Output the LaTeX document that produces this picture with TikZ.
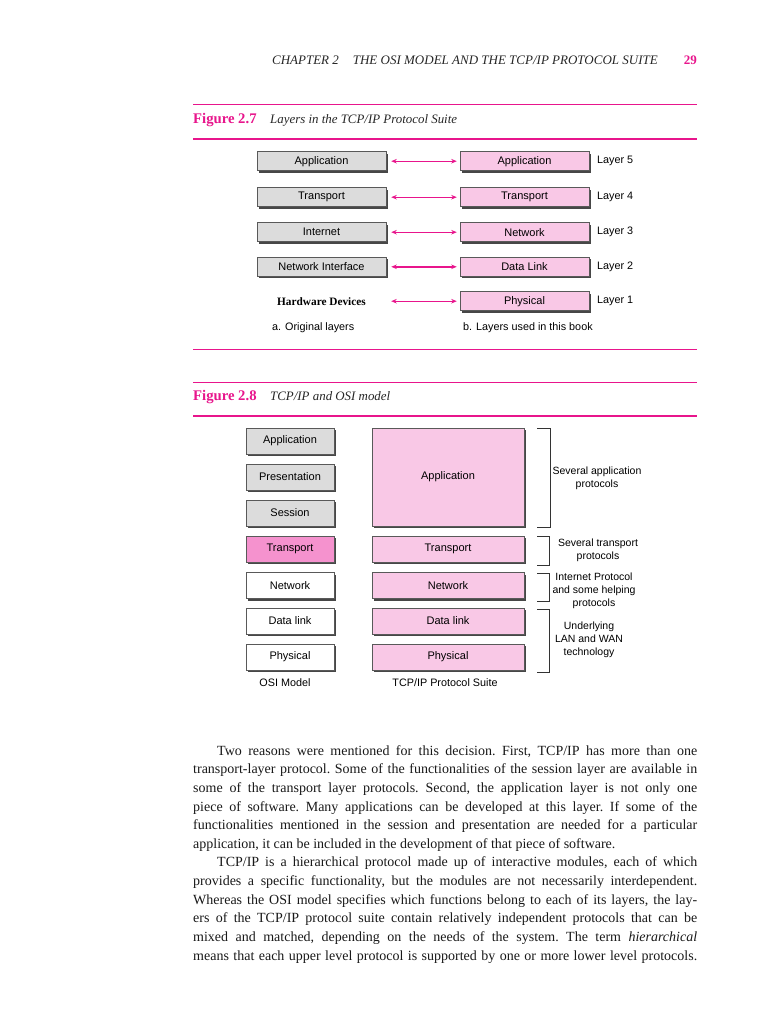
\documentclass[tikz,border=0pt]{standalone}
\usepackage{fontspec}
\setmainfont{Liberation Serif}
\setsansfont{Liberation Sans}
\usetikzlibrary{shadows,arrows.meta}
\definecolor{mag}{HTML}{E8158C}
\definecolor{boxgray}{HTML}{DCDCDC}
\definecolor{boxpink}{HTML}{F9C8E6}
\definecolor{boxmag}{HTML}{F592CE}
\tikzset{
  lay/.style={draw=black!65, line width=0.5pt, inner sep=0pt,
    font=\sffamily\fontsize{11}{13}\selectfont,
    general shadow={fill=black!72, shadow xshift=2pt, shadow yshift=-2pt}},
  sevenL/.style={lay, fill=boxgray, minimum width=129pt, minimum height=19pt},
  sevenR/.style={lay, fill=boxpink, minimum width=129pt, minimum height=19pt},
  osibox/.style={lay, minimum width=88pt, minimum height=26pt},
  tcpbox/.style={lay, fill=boxpink, minimum width=152pt, minimum height=26pt},
  lbl/.style={inner sep=0pt, font=\sffamily\fontsize{10.8}{13}\selectfont},
  note/.style={inner sep=0pt, align=center, font=\sffamily\fontsize{10.5}{13}\selectfont},
  arr/.style={mag, line width=0.9pt, {Stealth[length=5.5pt,width=4.5pt]}-{Stealth[length=5.5pt,width=4.5pt]}},
  rule/.style={mag, line width=1pt},
  bracket/.style={black!80, line width=0.7pt},
}
\newcommand{\jline}[1]{\hbox to 504pt{#1}}
\newcommand{\bodysetup}{\frenchspacing\baselineskip=18.65pt\relax
  \spaceskip=0.25em plus 1em minus 0.1em\relax}
\begin{document}
\begin{tikzpicture}[x=1pt,y=-1pt]
\useasboundingbox (0,0) rectangle (768,1024);
\fill[white] (0,0) rectangle (768,1024);

% running head
\node[anchor=base east, inner sep=0pt, font=\itshape\fontsize{13}{14}\selectfont, text=black!85] (hdr) at (658,65)
  {CHAPTER 2\hspace{14pt}THE OSI MODEL AND THE TCP/IP PROTOCOL SUITE};
\node[anchor=base east, inner sep=0pt, font=\bfseries\fontsize{13}{14}\selectfont, text=mag] (pg) at (697,65) {29};

% Figure 2.7 caption
\draw[rule] (193,105) -- (697,105);
\node[anchor=base west, inner sep=0pt, font=\bfseries\fontsize{14.7}{16}\selectfont, text=mag] (f27) at (193,124) {Figure 2.7};
\node[anchor=base west, inner sep=0pt, font=\itshape\fontsize{12.9}{14}\selectfont, text=black!85] (c27) at (270,124) {Layers in the TCP/IP Protocol Suite};
\draw[rule, line width=2pt] (193,139) -- (697,139);

% Figure 2.7 boxes
\node[sevenL] (L1) at (321.5,161.2) {Application};
\node[sevenL] (L2) at (321.5,197.2) {Transport};
\node[sevenL] (L3) at (321.5,232.2) {Internet};
\node[sevenL] (L4) at (321.5,266.8) {Network Interface};
\node[inner sep=0pt, minimum width=129pt, minimum height=19pt, font=\bfseries\fontsize{11.3}{13}\selectfont] (L5) at (321.5,301.2) {Hardware Devices};

\node[sevenR] (R1) at (524.5,161.2) {Application};
\node[sevenR] (R2) at (524.5,197.2) {Transport};
\node[sevenR] (R3) at (524.5,232.2) {Network};
\node[sevenR] (R4) at (524.5,266.8) {Data Link};
\node[sevenR] (R5) at (524.5,301.2) {Physical};

\draw[arr] ([xshift=5pt]L1.east) -- ([xshift=-3pt]R1.west);
\draw[arr] ([xshift=5pt]L2.east) -- ([xshift=-3pt]R2.west);
\draw[arr] ([xshift=5pt]L3.east) -- ([xshift=-3pt]R3.west);
\draw[arr, line width=1.6pt] ([xshift=5pt]L4.east) -- ([xshift=-3pt]R4.west);
\draw[arr] ([xshift=5pt]L5.east) -- ([xshift=-3pt]R5.west);

\node[lbl, anchor=west] (y5) at (597,161) {Layer 5};
\node[lbl, anchor=west] (y4) at (597,197) {Layer 4};
\node[lbl, anchor=west] (y3) at (597,232) {Layer 3};
\node[lbl, anchor=west] (y2) at (597,267) {Layer 2};
\node[lbl, anchor=west] (y1) at (597,301) {Layer 1};

\node[lbl, anchor=west] (capa) at (272,328) {a. Original layers};
\node[lbl, anchor=west] (capb) at (463,328) {b. Layers used in this book};

\draw[rule] (193,349) -- (697,349);

% Figure 2.8 caption
\draw[rule] (193,382) -- (697,382);
\node[anchor=base west, inner sep=0pt, font=\bfseries\fontsize{14.7}{16}\selectfont, text=mag] (f28) at (193,400) {Figure 2.8};
\node[anchor=base west, inner sep=0pt, font=\itshape\fontsize{12.9}{14}\selectfont, text=black!85] (c28) at (270,400) {TCP/IP and OSI model};
\draw[rule, line width=2.5pt] (193,416) -- (697,416);

% OSI column
\node[osibox, fill=boxgray] (o7) at (290,441) {Application};
\node[osibox, fill=boxgray] (o6) at (290,477) {Presentation};
\node[osibox, fill=boxgray] (o5) at (290,513) {Session};
\node[osibox, fill=boxmag] (o4) at (290,549) {Transport};
\node[osibox, fill=white] (o3) at (290,585.5) {Network};
\node[osibox, fill=white] (o2) at (290,621) {Data link};
\node[osibox, fill=white] (o1) at (290,657) {Physical};

% TCP/IP column
\node[lay, fill=boxpink, minimum width=152pt, minimum height=98pt] (tA) at (448,477) {Application};
\node[tcpbox] (tT) at (448,549) {Transport};
\node[tcpbox] (tN) at (448,585.5) {Network};
\node[tcpbox] (tD) at (448,621) {Data link};
\node[tcpbox] (tP) at (448,657) {Physical};

\node[lbl, anchor=center] (osil) at (285,682.5) {OSI Model};
\node[lbl, anchor=center] (tcpl) at (445,682.5) {TCP/IP Protocol Suite};

% brackets
\draw[bracket] (537,428) -- (550,428) -- (550,527) -- (537,527);
\draw[bracket] (537,536) -- (549,536) -- (549,565) -- (537,565);
\draw[bracket] (537,573) -- (549,573) -- (549,601) -- (537,601);
\draw[bracket] (537,609) -- (549,609) -- (549,672) -- (537,672);

\node[note] (n1) at (597,478) {Several application\\protocols};
\node[note] (n2) at (598,550.5) {Several transport\\protocols};
\node[note] (n3) at (594,591) {Internet Protocol\\and some helping\\protocols};
\node[note] (n4) at (589,640) {Underlying\\LAN and WAN\\technology};

% body text
\node[anchor=north west, inner sep=0pt, text width=504pt, text=black!90,
      font=\fontsize{14}{18.65}\selectfont] (body) at (193,745)
{\bodysetup
\jline{\hspace*{24pt}Two reasons were mentioned for this decision. First, TCP/IP has more than one}
\jline{transport-layer protocol. Some of the functionalities of the session layer are available in}
\jline{some of the transport layer protocols. Second, the application layer is not only one}
\jline{piece of software. Many applications can be developed at this layer. If some of the}
\jline{functionalities mentioned in the session and presentation are needed for a particular}
\hbox{application, it can be included in the development of that piece of software.}
\jline{\hspace*{24pt}TCP/IP is a hierarchical protocol made up of interactive modules, each of which}
\jline{provides a specific functionality, but the modules are not necessarily interdependent.}
\jline{Whereas the OSI model specifies which functions belong to each of its layers, the lay-}
\jline{ers of the TCP/IP protocol suite contain relatively independent protocols that can be}
\jline{mixed and matched, depending on the needs of the system. The term \textit{hierarchical}}
\jline{means that each upper level protocol is supported by one or more lower level protocols.}
};
\end{tikzpicture}
\end{document}
